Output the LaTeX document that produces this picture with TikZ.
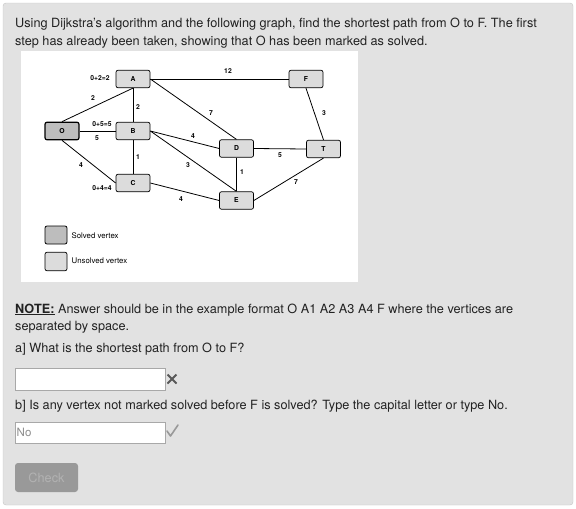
\documentclass[tikz,border=0pt]{standalone}
\usepackage{fontspec}
\setmainfont{TeX Gyre Heros}
\usetikzlibrary{calc}

\definecolor{panelgray}{HTML}{E2E2E2}
\definecolor{panelline}{HTML}{C4C4C4}
\definecolor{ink}{HTML}{222222}
\definecolor{solvedgray}{HTML}{BDBDBD}
\definecolor{unsolvedgray}{HTML}{DCDCDC}
\definecolor{boxline}{HTML}{A8A8A8}
\definecolor{btngray}{HTML}{999999}

\begin{document}
\begin{tikzpicture}[x=1pt,y=-1pt,
  vertex/.style={draw,rounded corners=2pt,minimum width=34pt,minimum height=17.5pt,
    inner sep=0pt,fill=unsolvedgray,line width=0.7pt,font=\fontsize{6.8}{7}\selectfont\bfseries},
  solved/.style={vertex,fill=solvedgray,line width=1.2pt},
  wt/.style={inner sep=0pt,font=\fontsize{6.8}{7}\selectfont\bfseries},
  link/.style={line width=0.8pt},
  keytxt/.style={anchor=west,inner sep=0pt,font=\fontsize{7.8}{8}\selectfont},
  txt/.style={anchor=base west,inner sep=0pt,text=ink,font=\fontsize{12.7}{14}\selectfont}]

\useasboundingbox (0,0) rectangle (576,509);

% panel and picture area
\draw[panelline,fill=panelgray,rounded corners=3pt] (3,3) rectangle (573,505);
\fill[white] (21,51) rectangle (358,282);

\node[txt] (q1) at (15,27.7) {Using Dijkstra’s algorithm and the following graph, find the shortest path from O to F. The first};
\node[txt] (q2) at (15,45) {step has already been taken, showing that O has been marked as solved.};

% vertices
\node[solved] (O) at (62,131) {O};
\node[vertex] (A) at (133,79) {A};
\node[vertex] (B) at (133,131) {B};
\node[vertex] (C) at (133,183) {C};
\node[vertex] (D) at (236.5,148.5) {D};
\node[vertex] (E) at (236.5,200.5) {E};
\node[vertex] (F) at (306,79) {F};
\node[vertex] (T) at (323.5,149) {T};

% edges
\draw[link] (O.north) -- (A.south);
\draw[link] (O.east) -- (B.west);
\draw[link] (O.south) -- (C.west);
\draw[link] (A.south) -- (B.north);
\draw[link] (B.south) -- (C.north);
\draw[link] (A.east) -- (F.west);
\draw[link] (A.east) -- (D.north);
\draw[link] (B.east) -- (D.west);
\draw[link] (B.east) -- (E.north);
\draw[link] (C.east) -- (E.west);
\draw[link] (D.south) -- (E.north);
\draw[link] (D.east) -- (T.west);
\draw[link] (F.south) -- (T.north);
\draw[link] (E.east) -- (T.south);

% weights and labels
\node[wt] (lA) at (100,78) {0+2=2};
\node[wt] (lB) at (102,124) {0+5=5};
\node[wt] (lC) at (102,188) {0+4=4};
\node[wt] (wOA) at (93,98) {2};
\node[wt] (wAB) at (138,107) {2};
\node[wt] (wOB) at (97,138) {5};
\node[wt] (wOC) at (81,165) {4};
\node[wt] (wBC) at (138,157) {1};
\node[wt] (wBD) at (193,136) {4};
\node[wt] (wBE) at (188,165) {3};
\node[wt] (wCE) at (181,199) {4};
\node[wt] (wAD) at (211,113) {7};
\node[wt] (wAF) at (228,71) {12};
\node[wt] (wFT) at (324,113) {3};
\node[wt] (wDT) at (280,155) {5};
\node[wt] (wDE) at (242,172) {1};
\node[wt] (wET) at (296,182) {7};

% legend
\node[solved,minimum width=22pt,minimum height=18pt,line width=0.8pt] (key1) at (56,235) {};
\node[vertex,minimum width=22pt,minimum height=18.5pt] (key2) at (56,261.5) {};
\node[keytxt] (key1t) at (71.5,236) {Solved vertex};
\node[keytxt] (key2t) at (71.5,261) {Unsolved vertex};

% questions
\node[txt] (n1) at (15,313) {\underline{\textbf{NOTE:}} Answer should be in the example format O A1 A2 A3 A4 F where the vertices are};
\node[txt] (n2) at (15,330.5) {separated by space.};
\node[txt] (qa) at (15,352) {a] What is the shortest path from O to F?};
\draw[boxline,fill=white] (15,368) rectangle (165,390);
\draw[line width=1.9pt,black!65] (167.5,374.5) -- (176.5,383.5) (176.5,374.5) -- (167.5,383.5);

\node[txt] (qb) at (15,409) {b] Is any vertex not marked solved before F is solved? Type the capital letter or type No.};
\draw[boxline,fill=white] (15,422) rectangle (165,443);
\node[anchor=west,inner sep=0pt,text=black!45,font=\fontsize{11.5}{13}\selectfont] (ans) at (16.5,432.5) {No};
\draw[line width=1.6pt,black!40,line cap=round,line join=round] (167,431) -- (170.5,436) -- (178,425);

\node[fill=btngray,rounded corners=3pt,minimum width=63pt,minimum height=29pt,inner sep=0pt,
  text=black!30,font=\fontsize{12.7}{14}\selectfont] (check) at (46.5,477.5) {Check};

\end{tikzpicture}
\end{document}
